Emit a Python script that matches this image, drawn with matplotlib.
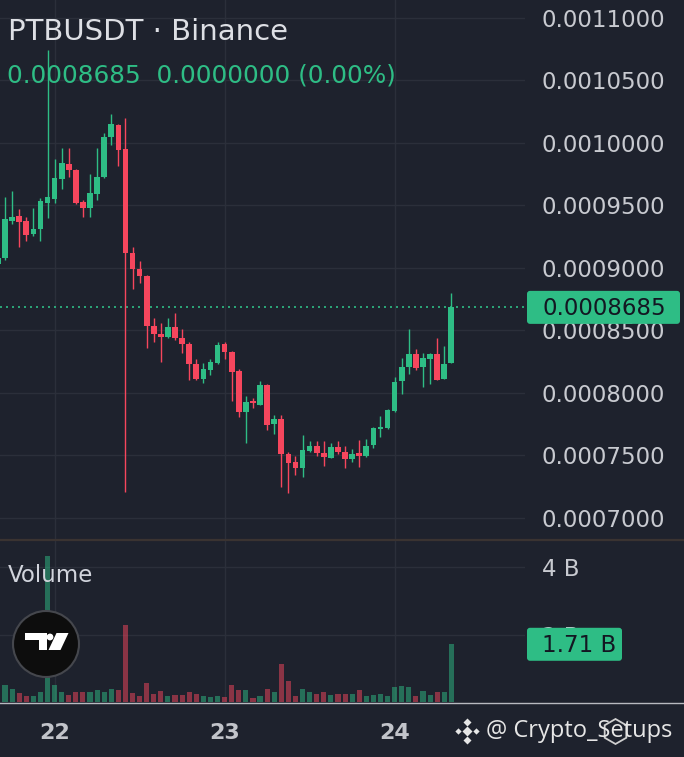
import matplotlib
matplotlib.use('Agg')
import matplotlib.pyplot as plt
import numpy as np
from matplotlib.patches import Circle, Polygon, FancyBboxPatch

# ---------------- data (hourly candles, PTBUSDT) ----------------
hour_index = list(range(-1, 64))
opens = [0.0009030, 0.0009080, 0.0009376, 0.0009416, 0.0009376, 0.0009272, 0.0009312, 0.0009520,
         0.0009552, 0.0009712, 0.0009832, 0.0009784, 0.0009528, 0.0009480, 0.0009592, 0.0009728,
         0.0010048, 0.0010144, 0.0009952, 0.0009120, 0.0008992, 0.0008936, 0.0008536, 0.0008472,
         0.0008448, 0.0008528, 0.0008440, 0.0008392, 0.0008232, 0.0008112, 0.0008184, 0.0008240,
         0.0008392, 0.0008328, 0.0008176, 0.0007848, 0.0007936, 0.0007904, 0.0008064, 0.0007752,
         0.0007792, 0.0007512, 0.0007448, 0.0007400, 0.0007536, 0.0007576, 0.0007520, 0.0007480,
         0.0007568, 0.0007528, 0.0007472, 0.0007520, 0.0007496, 0.0007584, 0.0007712, 0.0007720,
         0.0007856, 0.0008096, 0.0008208, 0.0008312, 0.0008208, 0.0008272, 0.0008312, 0.0008112,
         0.0008240]
highs = [0.0009110, 0.0009568, 0.0009616, 0.0009472, 0.0009408, 0.0009480, 0.0009560, 0.0010744,
         0.0009872, 0.0009960, 0.0009960, 0.0009792, 0.0009544, 0.0009752, 0.0009960, 0.0010080,
         0.0010232, 0.0010152, 0.0010200, 0.0009168, 0.0009056, 0.0008944, 0.0008600, 0.0008560,
         0.0008600, 0.0008640, 0.0008512, 0.0008408, 0.0008272, 0.0008240, 0.0008272, 0.0008408,
         0.0008408, 0.0008336, 0.0008192, 0.0007976, 0.0007960, 0.0008096, 0.0008072, 0.0007824,
         0.0007824, 0.0007528, 0.0007496, 0.0007664, 0.0007616, 0.0007616, 0.0007616, 0.0007600,
         0.0007616, 0.0007576, 0.0007552, 0.0007624, 0.0007632, 0.0007728, 0.0007816, 0.0007872,
         0.0008128, 0.0008280, 0.0008512, 0.0008352, 0.0008320, 0.0008316, 0.0008440, 0.0008376,
         0.0008800]
lows = [0.0009010, 0.0009064, 0.0009352, 0.0009168, 0.0009216, 0.0009256, 0.0009216, 0.0009400,
        0.0009520, 0.0009632, 0.0009728, 0.0009512, 0.0009408, 0.0009408, 0.0009544, 0.0009720,
        0.0009984, 0.0009816, 0.0007208, 0.0008832, 0.0008880, 0.0008360, 0.0008408, 0.0008248,
        0.0008440, 0.0008424, 0.0008320, 0.0008104, 0.0008104, 0.0008080, 0.0008144, 0.0008232,
        0.0008272, 0.0007936, 0.0007808, 0.0007600, 0.0007880, 0.0007900, 0.0007704, 0.0007672,
        0.0007248, 0.0007200, 0.0007344, 0.0007328, 0.0007528, 0.0007496, 0.0007416, 0.0007480,
        0.0007512, 0.0007400, 0.0007448, 0.0007408, 0.0007488, 0.0007560, 0.0007648, 0.0007712,
        0.0007850, 0.0007992, 0.0008152, 0.0008184, 0.0008048, 0.0008072, 0.0008100, 0.0008108,
        0.0008236]
closes = [0.0009080, 0.0009392, 0.0009408, 0.0009368, 0.0009264, 0.0009312, 0.0009536, 0.0009568,
          0.0009720, 0.0009840, 0.0009784, 0.0009520, 0.0009480, 0.0009600, 0.0009728, 0.0010048,
          0.0010152, 0.0009944, 0.0009120, 0.0008992, 0.0008936, 0.0008536, 0.0008472, 0.0008448,
          0.0008528, 0.0008440, 0.0008392, 0.0008232, 0.0008112, 0.0008192, 0.0008248, 0.0008384,
          0.0008328, 0.0008168, 0.0007848, 0.0007928, 0.0007920, 0.0008064, 0.0007744, 0.0007792,
          0.0007512, 0.0007440, 0.0007400, 0.0007544, 0.0007576, 0.0007520, 0.0007488, 0.0007568,
          0.0007528, 0.0007472, 0.0007512, 0.0007496, 0.0007576, 0.0007720, 0.0007728, 0.0007864,
          0.0008088, 0.0008208, 0.0008312, 0.0008200, 0.0008280, 0.0008312, 0.0008104, 0.0008232,
          0.0008685]
volumes_b = [0.18, 0.50, 0.39, 0.27, 0.18, 0.18, 0.30, 4.33, 0.50, 0.30, 0.21, 0.30, 0.30,
             0.30, 0.36, 0.30, 0.39, 0.36, 2.28, 0.27, 0.18, 0.56, 0.24, 0.33, 0.18, 0.21,
             0.21, 0.30, 0.24, 0.18, 0.15, 0.18, 0.15, 0.50, 0.36, 0.36, 0.12, 0.18, 0.39,
             0.30, 1.13, 0.62, 0.18, 0.39, 0.30, 0.24, 0.30, 0.21, 0.24, 0.24, 0.24, 0.36,
             0.18, 0.21, 0.24, 0.18, 0.44, 0.47, 0.44, 0.18, 0.33, 0.21, 0.30, 0.30, 1.71]

day_tick_hours = [7, 31, 55]
day_labels = ['22', '23', '24']
price_ticks = [0.0007, 0.00075, 0.0008, 0.00085, 0.0009, 0.00095, 0.0010, 0.00105, 0.0011]
vol_ticks = [2, 4]
vol_tick_labels = ['2 B', '4 B']
symbol_title = 'PTBUSDT · Binance'
change_text = '0.0000000 (0.00%)'
last_volume_text = '1.71 B'
watermark = '@ Crypto_Setups'

# ---------------- style ----------------
BG = '#1e222d'
GRID = '#2b2f3a'
UP = '#2ebd85'
DOWN = '#f6465d'
AXTXT = '#c8cad0'
W, H = 684, 757

fig = plt.figure(figsize=(W / 100, H / 100), dpi=100, facecolor=BG)

def frac_rect(x0, y0, x1, y1):
    return [x0 / W, 1 - y1 / H, (x1 - x0) / W, (y1 - y0) / H]

ax = fig.add_axes(frac_rect(0, 0, 525, 539))
axv = fig.add_axes(frac_rect(0, 539, 525, 702))
for a in (ax, axv):
    a.set_facecolor(BG)
    for s in a.spines.values():
        s.set_visible(False)
    a.set_xlim(-0.706, 73.4)
    a.set_xticks(day_tick_hours)
    a.grid(True, color=GRID, lw=1.0)
    a.set_axisbelow(True)

x = np.array(hour_index, dtype=float)
o = np.array(opens); h = np.array(highs); l = np.array(lows); c = np.array(closes)
cols = [UP if cc >= oo else DOWN for oo, cc in zip(o, c)]

ax.vlines(x, l, h, colors=cols, lw=1.0, zorder=3)
body_bottom = np.minimum(o, c)
body_h = np.maximum(np.abs(c - o), 1.6e-6)
ax.bar(x, body_h, bottom=body_bottom, width=0.8, color=cols, zorder=4, linewidth=0)

ax.set_ylim(0.0006832, 0.0011144)
ax.set_yticks(price_ticks)
ax.set_yticklabels([f'{p:.7f}' for p in price_ticks])
ax.yaxis.tick_right()
ax.tick_params(axis='y', length=0, pad=12, labelsize=16.5, labelcolor=AXTXT)
ax.tick_params(axis='x', length=0, labelbottom=False)

last_close = closes[-1]
ax.axhline(last_close, color=UP, lw=1.2, linestyle=(0, (1.2, 2.4)), zorder=2)

# volume
axv.bar(x, volumes_b, width=0.72, color=cols, alpha=0.5, linewidth=0, zorder=3)
axv.set_ylim(0, 4.83)
axv.set_yticks(vol_ticks)
axv.set_yticklabels(vol_tick_labels)
axv.yaxis.tick_right()
axv.tick_params(axis='y', length=0, pad=12, labelsize=16.5, labelcolor=AXTXT)
axv.set_xticklabels(day_labels)
axv.tick_params(axis='x', length=0, pad=15, labelsize=16, labelcolor='#c2c4ca')
for t in axv.get_xticklabels():
    t.set_fontweight('bold')

# ---------------- overlay (pixel coords) ----------------
ov = fig.add_axes([0, 0, 1, 1], zorder=10)
ov.set_xlim(0, W)
ov.set_ylim(H, 0)
ov.axis('off')
ov.patch.set_alpha(0)

ov.plot([0, W], [539.5, 539.5], color='#3a3331', lw=1.6)
ov.plot([0, W], [702.5, 702.5], color='#b8bac0', lw=1.0)

# header
ov.text(8, 40, symbol_title, fontsize=21, color='#dddfe4', va='baseline', ha='left')
ov.text(7, 82, f'{last_close:.7f}  {change_text}', fontsize=17.8, color=UP, va='baseline', ha='left')
ov.text(8, 575, 'Volume', fontsize=16.5, color='#d1d4dc', va='center', ha='left')

# last price box
y_disp = ax.transData.transform((0, last_close))[1]
yp = H - y_disp
ov.add_patch(FancyBboxPatch((527, yp - 16.5), 153, 33, boxstyle='round,pad=0,rounding_size=3',
                            fc=UP, ec='none'))
ov.text(542, yp + 1, f'{last_close:.7f}', fontsize=16.5, color='#131722', va='center', ha='left')

# last volume box
yv_disp = axv.transData.transform((0, volumes_b[-1]))[1]
yvp = H - yv_disp
ov.add_patch(FancyBboxPatch((527, yvp - 16.5), 95, 33, boxstyle='round,pad=0,rounding_size=3',
                            fc=UP, ec='none'))
ov.text(542, yvp + 1, last_volume_text, fontsize=16.5, color='#131722', va='center', ha='left')

# TradingView logo
ov.add_patch(Circle((46, 644), 33, fc='#0d0d0d', ec='#45474d', lw=1.5))
ov.add_patch(Polygon([(25, 633), (47, 633), (47, 650), (38.5, 650), (38.5, 640), (25, 640)],
                     closed=True, fc='white', ec='none'))
ov.add_patch(Circle((50, 637), 3.4, fc='white', ec='none'))
ov.add_patch(Polygon([(56.5, 633), (68.5, 633), (60.5, 650), (48.5, 650)], closed=True,
                     fc='white', ec='none'))

# watermark
wm = '#e6e6e6'
ov.plot([467], [731], marker='D', ms=5, color=wm, mec='none')
ov.plot([458, 476], [731, 731], marker='D', ms=3.2, color=wm, mec='none', ls='none')
ov.plot([467, 467], [722, 740], marker='D', ms=4.2, color=wm, mec='none', ls='none')
ov.text(486, 731, watermark, fontsize=17, family='Open Sans', color=wm, va='center', ha='left')
ov.plot([615], [731], marker='h', ms=18, mfc='none', mec='#cfcfcf', mew=1.3)

fig.savefig('out.png', dpi=100, facecolor=BG)
